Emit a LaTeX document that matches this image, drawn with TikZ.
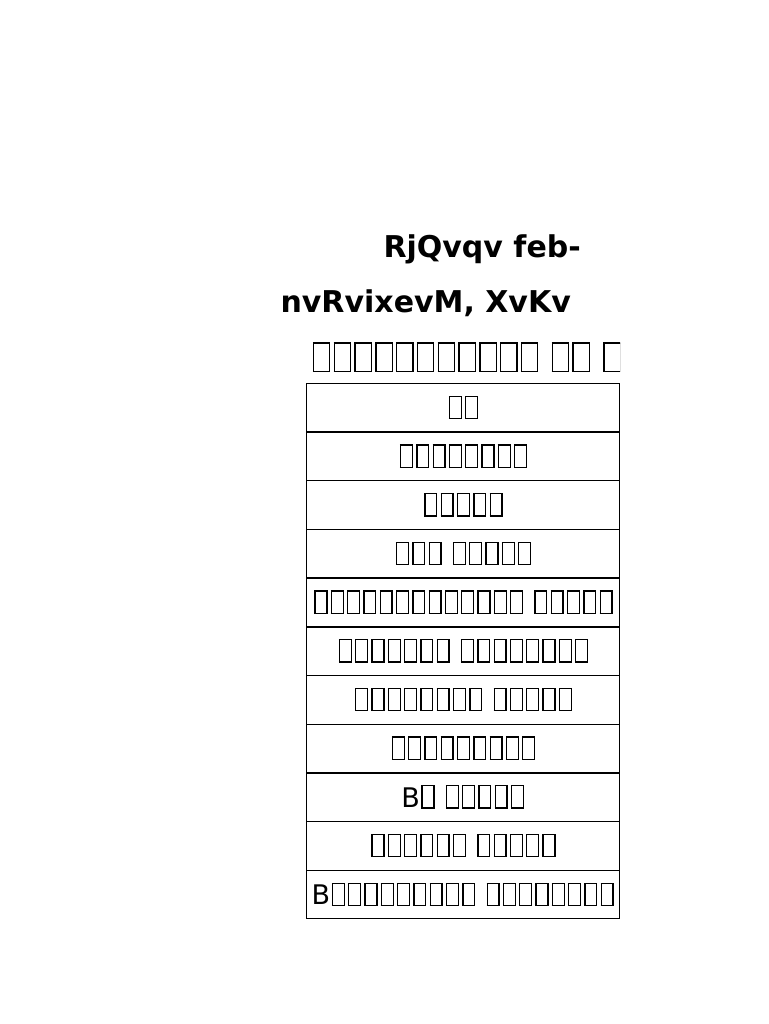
\documentclass[tikz,border=0pt]{standalone}
\usepackage{fontspec}
\setmainfont{DejaVu Sans}
\usetikzlibrary{positioning}
\newcommand{\tofu}[2]{\hspace{1.6pt}{\setlength\fboxsep{0pt}\setlength\fboxrule{1.3pt}\fbox{\rule{0pt}{#2}\hspace{#1}}}\hspace{1.6pt}}
\newcommand{\tfs}[1]{\foreach \i in {1,...,#1}{\tofu{10.5pt}{21pt}}}
\newcommand{\tft}[1]{\foreach \i in {1,...,#1}{\tofu{15pt}{27pt}}}
\begin{document}
\begin{tikzpicture}[x=1pt,y=-1pt]
        \tikzset{row/.style={draw, thin, minimum width=313pt, minimum height=48.3pt, inner sep=0pt, font=\fontsize{27}{30}\selectfont}}
        \useasboundingbox (0,0) rectangle (768,1024);
        \clip (0,0) rectangle (620,1024);
        \node[anchor=base west, font=\fontsize{30}{34}\selectfont\bfseries] (t1) at (380,258) {RjQvqv feb-}; 
        \node[anchor=base west, font=\fontsize{30}{34}\selectfont\bfseries] (t2) at (277,312) {nvRvixevM, XvKv};
        \node[anchor=west, inner sep=0pt] (t3) at (311,357) {\tft{11}\hspace{10pt}\tft{2}\hspace{10pt}\tft{1}};
        \node[row, anchor=north west] (r1) at (306,383) {\tfs{2}};
        \node[row, below=0pt of r1] (r2) {\tfs{8}};
        \node[row, below=0pt of r2] (r3) {\tfs{5}};
        \node[row, below=0pt of r3] (r4) {\tfs{3}\hspace{8pt}\tfs{5}};
        \node[row, below=0pt of r4] (r5) {\tfs{13}\hspace{8pt}\tfs{5}};
        \node[row, below=0pt of r5] (r6) {\tfs{7}\hspace{8pt}\tfs{8}};
        \node[row, below=0pt of r6] (r7) {\tfs{8}\hspace{8pt}\tfs{5}};
        \node[row, below=0pt of r7] (r8) {\tfs{9}};
        \node[row, below=0pt of r8] (r9) {B\tfs{1}\hspace{8pt}\tfs{5}};
        \node[row, below=0pt of r9] (r10) {\tfs{6}\hspace{8pt}\tfs{5}};
        \node[row, below=0pt of r10] (r11) {B\tfs{9}\hspace{8pt}\tfs{8}};
\end{tikzpicture}
\end{document}
